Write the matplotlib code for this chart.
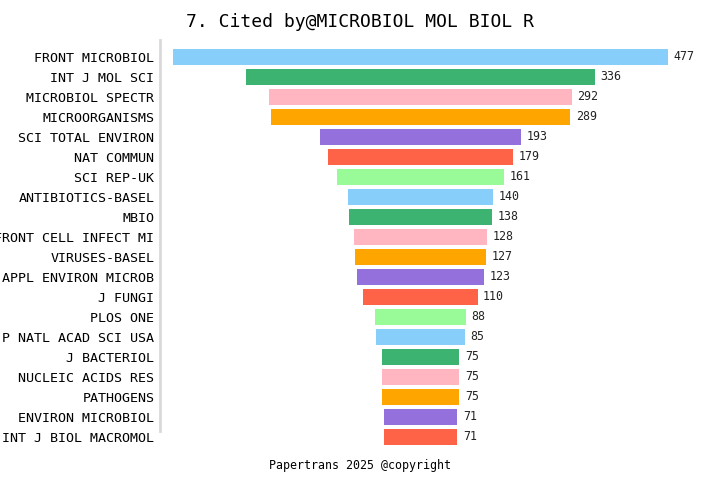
import matplotlib
matplotlib.use("Agg")
import matplotlib.pyplot as plt

journals = ["FRONT MICROBIOL", "INT J MOL SCI", "MICROBIOL SPECTR", "MICROORGANISMS",
            "SCI TOTAL ENVIRON", "NAT COMMUN", "SCI REP-UK", "ANTIBIOTICS-BASEL", "MBIO",
            "FRONT CELL INFECT MI", "VIRUSES-BASEL", "APPL ENVIRON MICROB", "J FUNGI",
            "PLOS ONE", "P NATL ACAD SCI USA", "J BACTERIOL", "NUCLEIC ACIDS RES",
            "PATHOGENS", "ENVIRON MICROBIOL", "INT J BIOL MACROMOL"]
counts = [477, 336, 292, 289, 193, 179, 161, 140, 138, 128, 127, 123, 110, 88, 85,
          75, 75, 75, 71, 71]
palette = ["#87CEFA", "#3CB371", "#FFB6C1", "#FFA500", "#9370DB", "#FF6347", "#98FB98"]
title = "7. Cited by@MICROBIOL MOL BIOL R"
footer = "Papertrans 2025 @copyright"

plt.rcParams['font.family'] = ['DejaVu Sans Mono']

fig = plt.figure(figsize=(7.2, 4.8), dpi=100)
W, H = 720, 480
ax_left, ax_right = 160, 681
ax_top, ax_bot = 40, 452
ax = fig.add_axes([ax_left / W, 1 - ax_bot / H, (ax_right - ax_left) / W, (ax_bot - ax_top) / H])

n = len(journals)
ypos = list(range(n))
colors = [palette[i % len(palette)] for i in range(n)]
ax.barh(ypos, counts, left=[-c / 2 for c in counts], height=0.8, color=colors)
for y, c in zip(ypos, counts):
    ax.annotate(str(c), xy=(c / 2, y), xytext=(4, 0), textcoords="offset points",
                va="center", ha="left", fontsize=8.4, color="#222222")

ax.set_xlim(-251, 251)
ax.set_ylim(19.75, -0.85)
ax.set_yticks(ypos)
ax.set_yticklabels(journals, fontsize=9.6)
ax.tick_params(axis='y', length=0, pad=4)
ax.set_xticks([])
for s in ["top", "right", "bottom"]:
    ax.spines[s].set_visible(False)
ax.spines["left"].set_color("#d9d9d9")
ax.spines["left"].set_linewidth(2)
ax.spines["left"].set_bounds(18.7, -0.85)

fig.text(0.5, 1 - 22 / H, title, ha="center", va="center", fontsize=13)
fig.text(0.5, 1 - 466 / H, footer, ha="center", va="center", fontsize=8.4)

fig.savefig("out.png", dpi=100)
